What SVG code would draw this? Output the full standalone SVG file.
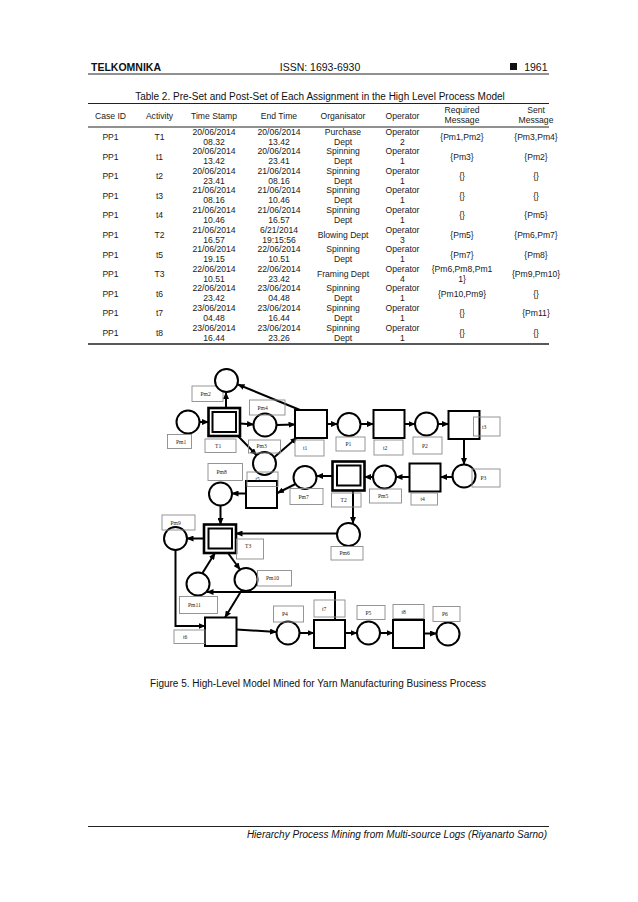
<svg xmlns="http://www.w3.org/2000/svg" width="638" height="902" viewBox="0 0 638 902">
<style>
.hd{font-family:"Liberation Sans",Arial,sans-serif;font-size:10.5px;fill:#111}
.tt{font-family:"Liberation Sans",Arial,sans-serif;font-size:10px;fill:#111}
.tc{font-family:"Liberation Sans",Arial,sans-serif;font-size:8.6px;fill:#1a1a1a;text-anchor:middle}
.rule{stroke:#222;stroke-width:1;fill:none}
.pl{fill:#fff;stroke:#000;stroke-width:2}
.tr{fill:#fff;stroke:#000;stroke-width:2}
.ob{fill:#fff;stroke:#000;stroke-width:2.6}
.ib{fill:#fff;stroke:#000;stroke-width:2}
.lb{fill:none;stroke:#8a8a8a;stroke-width:0.9}
.lt{font-family:"Liberation Serif","Times New Roman",serif;font-size:5.6px;fill:#222}
.arc{fill:none;stroke:#000;stroke-width:2;marker-end:url(#ah)}
</style>
<defs>
<marker id="ah" markerWidth="7" markerHeight="6" refX="6.5" refY="3" orient="auto" markerUnits="userSpaceOnUse"><path d="M0,0 L7,3 L0,6 z" fill="#000"/></marker>
</defs>
<rect width="638" height="902" fill="#fff"/>

<g id="page-header">
<text class="hd" x="91" y="70.5" font-weight="bold">TELKOMNIKA</text>
<text class="hd" x="320" y="70.5" text-anchor="middle">ISSN: 1693-6930</text>
<rect x="510" y="63" width="7" height="7" fill="#111"/>
<text class="hd" x="547.5" y="70.5" text-anchor="end">1961</text>
<line class="rule" x1="88" y1="74" x2="549" y2="74"/>
</g>

<g id="table">
<text class="tt" x="320" y="100" text-anchor="middle">Table 2. Pre-Set and Post-Set of Each Assignment in the High Level Process Model</text>
<line class="rule" x1="88" y1="103.5" x2="549" y2="103.5"/>
<line class="rule" x1="88" y1="127" x2="549" y2="127"/>
<line x1="88" y1="344" x2="549" y2="344" stroke="#222" stroke-width="1.6"/>
<g class="tc">
<text x="110.5" y="118.5">Case ID</text>
<text x="159.5" y="118.5">Activity</text>
<text x="214" y="118.5">Time Stamp</text>
<text x="279" y="118.5">End Time</text>
<text x="343" y="118.5">Organisator</text>
<text x="402.5" y="118.5">Operator</text>
<text x="462" y="113">Required</text><text x="462" y="123">Message</text>
<text x="536" y="113">Sent</text><text x="536" y="123">Message</text>
</g>
<g class="tc">
<text x="110.5" y="140">PP1</text><text x="159.5" y="140">T1</text>
<text x="214" y="134.5">20/06/2014</text><text x="214" y="144.5">08.32</text>
<text x="279" y="134.5">20/06/2014</text><text x="279" y="144.5">13.42</text>
<text x="343" y="134.5">Purchase</text><text x="343" y="144.5">Dept</text>
<text x="402.5" y="134.5">Operator</text><text x="402.5" y="144.5">2</text>
<text x="462" y="140">{Pm1,Pm2}</text><text x="536" y="140">{Pm3,Pm4}</text>
<text x="110.5" y="159.6">PP1</text><text x="159.5" y="159.6">t1</text>
<text x="214" y="154.1">20/06/2014</text><text x="214" y="164.1">13.42</text>
<text x="279" y="154.1">20/06/2014</text><text x="279" y="164.1">23.41</text>
<text x="343" y="154.1">Spinning</text><text x="343" y="164.1">Dept</text>
<text x="402.5" y="154.1">Operator</text><text x="402.5" y="164.1">1</text>
<text x="462" y="159.6">{Pm3}</text><text x="536" y="159.6">{Pm2}</text>
<text x="110.5" y="179.2">PP1</text><text x="159.5" y="179.2">t2</text>
<text x="214" y="173.7">20/06/2014</text><text x="214" y="183.7">23.41</text>
<text x="279" y="173.7">21/06/2014</text><text x="279" y="183.7">08.16</text>
<text x="343" y="173.7">Spinning</text><text x="343" y="183.7">Dept</text>
<text x="402.5" y="173.7">Operator</text><text x="402.5" y="183.7">1</text>
<text x="462" y="179.2">{}</text><text x="536" y="179.2">{}</text>
<text x="110.5" y="198.8">PP1</text><text x="159.5" y="198.8">t3</text>
<text x="214" y="193.3">21/06/2014</text><text x="214" y="203.3">08.16</text>
<text x="279" y="193.3">21/06/2014</text><text x="279" y="203.3">10.46</text>
<text x="343" y="193.3">Spinning</text><text x="343" y="203.3">Dept</text>
<text x="402.5" y="193.3">Operator</text><text x="402.5" y="203.3">1</text>
<text x="462" y="198.8">{}</text><text x="536" y="198.8">{}</text>
<text x="110.5" y="218.4">PP1</text><text x="159.5" y="218.4">t4</text>
<text x="214" y="212.9">21/06/2014</text><text x="214" y="222.9">10.46</text>
<text x="279" y="212.9">21/06/2014</text><text x="279" y="222.9">16.57</text>
<text x="343" y="212.9">Spinning</text><text x="343" y="222.9">Dept</text>
<text x="402.5" y="212.9">Operator</text><text x="402.5" y="222.9">1</text>
<text x="462" y="218.4">{}</text><text x="536" y="218.4">{Pm5}</text>
<text x="110.5" y="238">PP1</text><text x="159.5" y="238">T2</text>
<text x="214" y="232.5">21/06/2014</text><text x="214" y="242.5">16.57</text>
<text x="279" y="232.5">6/21/2014</text><text x="279" y="242.5">19:15:56</text>
<text x="343" y="238">Blowing Dept</text>
<text x="402.5" y="232.5">Operator</text><text x="402.5" y="242.5">3</text>
<text x="462" y="238">{Pm5}</text><text x="536" y="238">{Pm6,Pm7}</text>
<text x="110.5" y="257.6">PP1</text><text x="159.5" y="257.6">t5</text>
<text x="214" y="252.1">21/06/2014</text><text x="214" y="262.1">19.15</text>
<text x="279" y="252.1">22/06/2014</text><text x="279" y="262.1">10.51</text>
<text x="343" y="252.1">Spinning</text><text x="343" y="262.1">Dept</text>
<text x="402.5" y="252.1">Operator</text><text x="402.5" y="262.1">1</text>
<text x="462" y="257.6">{Pm7}</text><text x="536" y="257.6">{Pm8}</text>
<text x="110.5" y="277.2">PP1</text><text x="159.5" y="277.2">T3</text>
<text x="214" y="271.7">22/06/2014</text><text x="214" y="281.7">10.51</text>
<text x="279" y="271.7">22/06/2014</text><text x="279" y="281.7">23.42</text>
<text x="343" y="277.2">Framing Dept</text>
<text x="402.5" y="271.7">Operator</text><text x="402.5" y="281.7">4</text>
<text x="462" y="271.7">{Pm6,Pm8,Pm1</text><text x="462" y="281.7">1}</text>
<text x="536" y="277.2">{Pm9,Pm10}</text>
<text x="110.5" y="296.8">PP1</text><text x="159.5" y="296.8">t6</text>
<text x="214" y="291.3">22/06/2014</text><text x="214" y="301.3">23.42</text>
<text x="279" y="291.3">23/06/2014</text><text x="279" y="301.3">04.48</text>
<text x="343" y="291.3">Spinning</text><text x="343" y="301.3">Dept</text>
<text x="402.5" y="291.3">Operator</text><text x="402.5" y="301.3">1</text>
<text x="462" y="296.8">{Pm10,Pm9}</text><text x="536" y="296.8">{}</text>
<text x="110.5" y="316.4">PP1</text><text x="159.5" y="316.4">t7</text>
<text x="214" y="310.9">23/06/2014</text><text x="214" y="320.9">04.48</text>
<text x="279" y="310.9">23/06/2014</text><text x="279" y="320.9">16.44</text>
<text x="343" y="310.9">Spinning</text><text x="343" y="320.9">Dept</text>
<text x="402.5" y="310.9">Operator</text><text x="402.5" y="320.9">1</text>
<text x="462" y="316.4">{}</text><text x="536" y="316.4">{Pm11}</text>
<text x="110.5" y="336">PP1</text><text x="159.5" y="336">t8</text>
<text x="214" y="330.5">23/06/2014</text><text x="214" y="340.5">16.44</text>
<text x="279" y="330.5">23/06/2014</text><text x="279" y="340.5">23.26</text>
<text x="343" y="330.5">Spinning</text><text x="343" y="340.5">Dept</text>
<text x="402.5" y="330.5">Operator</text><text x="402.5" y="340.5">1</text>
<text x="462" y="336">{}</text><text x="536" y="336">{}</text>
</g>
</g>

<g id="connectors">
<path class="arc" d="M199.5,422 L208.5,422"/>
<path class="arc" d="M226,408 L226,392.5"/>
<path class="arc" d="M240,423.5 L253.5,424.5"/>
<path class="arc" d="M238,436 L256.5,455"/>
<path class="arc" d="M276.5,425 L295,424.5"/>
<path class="arc" d="M274.5,457 L297,437.5"/>
<path class="arc" d="M300,410 L238,384.5"/>
<path class="arc" d="M327,424 L337.5,424"/>
<path class="arc" d="M360.5,424 L373.5,424"/>
<path class="arc" d="M404.5,424 L415,424"/>
<path class="arc" d="M438,424 L448.5,424"/>
<path class="arc" d="M464,439 L464,464.5"/>
<path class="arc" d="M452.5,477 L440.5,477"/>
<path class="arc" d="M409.5,477 L396,477"/>
<path class="arc" d="M373,477 L364.5,477"/>
<path class="arc" d="M332.5,476 L316.5,476"/>
<path class="arc" d="M295.5,484 L277.5,493"/>
<path class="arc" d="M246,493.5 L232,493.5"/>
<path class="arc" d="M220.5,505.5 L220.5,524.5"/>
<path class="arc" d="M353,490.5 L353,523.5"/>
<path class="arc" d="M337,533.5 L236,533.5"/>
<path class="arc" d="M204,538.5 L187,538.5"/>
<path class="arc" d="M202.5,573 L215,553"/>
<path class="arc" d="M228,553 L240,569.5"/>
<path class="arc" d="M241.5,590.5 L225,617.5"/>
<path class="arc" d="M175.5,550 L175.5,626 L205,626"/>
<path class="arc" d="M335,620 L335,592 L207,592"/>
<path class="arc" d="M236.5,629.5 L276.5,632"/>
<path class="arc" d="M299.5,633 L314,633"/>
<path class="arc" d="M345,633 L357,633"/>
<path class="arc" d="M380,633 L393,633"/>
<path class="arc" d="M424,633.5 L436.5,633.5"/>
</g>

<g id="Pm2"><rect class="lb" x="192" y="386" width="31" height="15.5"/><text class="lt" x="200.5" y="395.8">Pm2</text><circle class="pl" cx="226.5" cy="380.5" r="11.5"/></g>
<g id="Pm1"><circle class="pl" cx="188" cy="422" r="11.5"/><rect class="lb" x="167.5" y="434.5" width="24" height="14"/><text class="lt" x="176" y="443.5">Pm1</text></g>
<g id="T1"><rect class="ob" x="208.5" y="408" width="31.5" height="28"/><rect class="ib" x="212.5" y="412" width="23.5" height="20"/><rect class="lb" x="205" y="439" width="31" height="13.5"/><text class="lt" x="215" y="447.7">T1</text></g>
<g id="Pm4"><circle class="pl" cx="265" cy="425" r="11.5"/><rect class="lb" x="249.5" y="400" width="35.5" height="15"/><text class="lt" x="257.5" y="409.5">Pm4</text></g>
<g id="Pm3"><circle class="pl" cx="264.5" cy="463.5" r="11.5"/><rect class="lb" x="248.5" y="440" width="32" height="13"/><text class="lt" x="256.5" y="448.2">Pm3</text></g>
<g id="t1"><rect class="tr" x="295" y="410" width="32" height="28"/><rect class="lb" x="295" y="440" width="29" height="16"/><text class="lt" x="303" y="450">t1</text></g>
<g id="P1"><circle class="pl" cx="349" cy="424.5" r="11.5"/><rect class="lb" x="336" y="437" width="29" height="14"/><text class="lt" x="345.5" y="446">P1</text></g>
<g id="t2"><rect class="tr" x="373.5" y="410" width="31" height="28"/><rect class="lb" x="374" y="440" width="29" height="15"/><text class="lt" x="383" y="449.5">t2</text></g>
<g id="P2"><circle class="pl" cx="426.5" cy="424" r="11.5"/><rect class="lb" x="413" y="437" width="29" height="17"/><text class="lt" x="422" y="447.5">P2</text></g>
<g id="t3"><rect class="tr" x="448.5" y="411" width="31" height="28"/><rect class="lb" x="473.5" y="417" width="26.5" height="19" fill="#fff"/><text class="lt" x="482" y="428.5">t3</text></g>
<g id="P3"><circle class="pl" cx="464" cy="476" r="11.5"/><rect class="lb" x="472" y="469" width="28" height="18" fill="#fff"/><text class="lt" x="480.5" y="480">P3</text></g>
<g id="t4"><rect class="tr" x="409.5" y="463.5" width="31" height="28"/><rect class="lb" x="411" y="493" width="26.5" height="12"/><text class="lt" x="420.5" y="501">t4</text></g>
<g id="Pm5"><circle class="pl" cx="384.5" cy="477" r="11.5"/><rect class="lb" x="369.5" y="489" width="32" height="14"/><text class="lt" x="378" y="498">Pm5</text></g>
<g id="T2"><rect class="ob" x="332.5" y="461.5" width="32" height="29"/><rect class="ib" x="337" y="465.5" width="23.5" height="20"/><rect class="lb" x="331.5" y="493" width="29.5" height="14"/><text class="lt" x="340.5" y="502">T2</text></g>
<g id="Pm7"><circle class="pl" cx="305" cy="477.5" r="11.5"/><rect class="lb" x="290" y="488.5" width="33" height="16"/><text class="lt" x="298.5" y="498.5">Pm7</text></g>
<g id="t5"><rect class="tr" x="246" y="481" width="31" height="27"/><rect class="lb" x="247" y="472" width="31" height="14.5"/><text class="lt" x="255.5" y="480.5">t5</text></g>
<g id="Pm8"><circle class="pl" cx="220.5" cy="494" r="11.5"/><rect class="lb" x="208" y="463.5" width="34.5" height="17"/><text class="lt" x="216.5" y="474">Pm8</text></g>
<g id="Pm9"><circle class="pl" cx="175.5" cy="538.5" r="11.5"/><rect class="lb" x="162" y="515" width="33" height="15"/><text class="lt" x="170.5" y="524.5">Pm9</text></g>
<g id="T3"><rect class="ob" x="204" y="524.5" width="32" height="28.5"/><rect class="ib" x="208.5" y="528.5" width="23.5" height="20"/><rect class="lb" x="236.5" y="539" width="27" height="20"/><text class="lt" x="245" y="548">T3</text></g>
<g id="Pm6"><circle class="pl" cx="348.5" cy="534.5" r="11.5"/><rect class="lb" x="331" y="546.5" width="32" height="13.5"/><text class="lt" x="339.5" y="555.2">Pm6</text></g>
<g id="Pm10"><circle class="pl" cx="246" cy="579.5" r="11.5"/><rect class="lb" x="257.5" y="570.5" width="34" height="15.5"/><text class="lt" x="266" y="580.3">Pm10</text></g>
<g id="Pm11"><circle class="pl" cx="198" cy="584" r="11.5"/><rect class="lb" x="179.5" y="596.5" width="38" height="17"/><text class="lt" x="188" y="607">Pm11</text></g>
<g id="t6"><rect class="tr" x="205" y="617.5" width="31.5" height="28.5"/><rect class="lb" x="174" y="630" width="31" height="13.5"/><text class="lt" x="183" y="638.7">t6</text></g>
<g id="P4"><circle class="pl" cx="288" cy="633" r="11.5"/><rect class="lb" x="273.5" y="606" width="30" height="16"/><text class="lt" x="282" y="616">P4</text></g>
<g id="t7"><rect class="tr" x="314" y="620" width="31" height="28"/><rect class="lb" x="314" y="600" width="31" height="17"/><text class="lt" x="322" y="610.5">t7</text></g>
<g id="P5"><circle class="pl" cx="368.5" cy="633" r="11.5"/><rect class="lb" x="357" y="605.5" width="28" height="14"/><text class="lt" x="365.5" y="614.5">P5</text></g>
<g id="t8"><rect class="tr" x="393" y="620" width="31" height="28"/><rect class="lb" x="393" y="604.5" width="31" height="14"/><text class="lt" x="401.5" y="613.5">t8</text></g>
<g id="P6"><circle class="pl" cx="448" cy="634" r="11.5"/><rect class="lb" x="433" y="606.5" width="27" height="15"/><text class="lt" x="442" y="616">P6</text></g>

<g id="caption">
<text class="tt" x="318" y="686.5" text-anchor="middle">Figure 5. High-Level Model Mined for Yarn Manufacturing Business Process</text>
</g>
<g id="footer">
<line class="rule" x1="88" y1="826.5" x2="549" y2="826.5"/>
<text class="tt" x="547" y="838" text-anchor="end" font-style="italic">Hierarchy Process Mining from Multi-source Logs (Riyanarto Sarno)</text>
</g>
</svg>
